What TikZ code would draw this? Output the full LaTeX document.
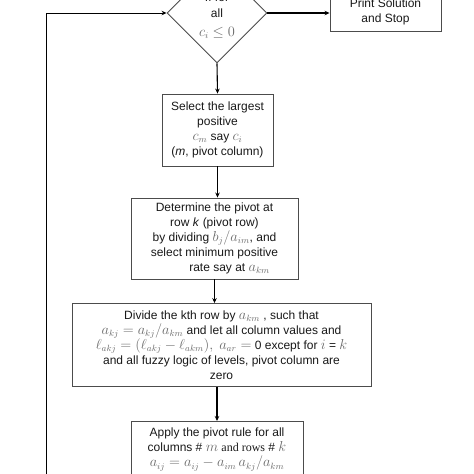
\documentclass[tikz,border=0pt]{standalone}
\usepackage{fontspec}
\setmainfont{Liberation Sans}
\newfontfamily\serifont{Liberation Serif}
\usetikzlibrary{shapes.geometric,arrows.meta}
\definecolor{mgray}{rgb}{0.42,0.42,0.42}
\definecolor{bordergray}{rgb}{0.3,0.3,0.3}
\definecolor{txt}{rgb}{0.1,0.1,0.1}
\newcommand{\gm}[1]{\textcolor{mgray}{\fontsize{13.5}{15}\selectfont$#1$}}
\tikzset{
  procbox/.style={draw=bordergray, line width=0.9pt, fill=white, align=center, inner sep=2pt, text=txt, font=\fontsize{12}{15}\selectfont},
  decision/.style={draw=bordergray, line width=0.9pt, diamond, aspect=1, inner sep=0pt, align=center, text=txt, font=\fontsize{12}{15}\selectfont},
  conn/.style={draw=black, line width=1.1pt, -{Stealth[length=5pt,width=4.5pt]}}
}
\begin{document}
\begin{tikzpicture}[x=1pt,y=-1pt]
\useasboundingbox (0,0) rectangle (474,474);
\clip (0,0) rectangle (474,474);
\fill[white] (0,0) rectangle (474,474);

\node[decision, minimum width=100pt, minimum height=100pt] (d) at (217,13) {};
\node[text=txt, font=\fontsize{12}{15}\selectfont, align=center, inner sep=0pt] (dtext) at (217,16)
  {If for\\[1pt] all\\[4pt] \gm{c_i \le 0}};

\node[procbox, minimum width=111pt, minimum height=39pt] (stop) at (385.5,11.5)
  {Print Solution\\ and Stop};

\node[procbox, minimum width=111pt, minimum height=72pt] (b2) at (217.5,130)
  {Select the largest\\ positive\\ \gm{c_m} say \gm{c_i}\\ (\textit{m}, pivot column)};

\node[procbox, minimum width=167pt, minimum height=81pt] (b3) at (214.5,238.5)
  {Determine the pivot at\\ row \textit{k} (pivot row)\\ by dividing \gm{b_j/a_{im}}, and\\ select minimum positive\\ \hspace*{30pt}rate say at \gm{a_{km}}};

\node[procbox, minimum width=299pt, minimum height=83pt] (b4) at (221.5,345)
  {Divide the kth row by \gm{a_{km}} , such that\\
   \gm{a_{kj} = a_{kj}\big/a_{km}} and let all column values and\\
   \gm{\ell_{akj} = (\ell_{akj} - \ell_{akm}),\ a_{ar} =} 0 except for \gm{i} = \gm{k}\\
   and all fuzzy logic of levels, pivot column are\\
   zero};

\node[procbox, anchor=north, minimum width=172pt, minimum height=56pt] (b5) at (217,421)
  {Apply the pivot rule for all\\
   columns \# \gm{m} {\serifont and rows} \# \gm{k}\\
   \gm{a_{ij} = a_{ij} - a_{im}\, a_{kj}\big/a_{km}}};

\coordinate (lb) at (46,490);

\draw[conn] (d.east) -- (d.east -| stop.west);
\draw[conn] (d.south) -- (b2.north);
\draw[conn] (b2.south) -- (b2.south |- b3.north);
\draw[conn] (b3.south) -- (b3.south |- b4.north);
\draw[conn] (b4.south -| b5.north) -- (b5.north);
\draw[conn, line width=1pt] (lb) |- (d.west);
\end{tikzpicture}
\end{document}
